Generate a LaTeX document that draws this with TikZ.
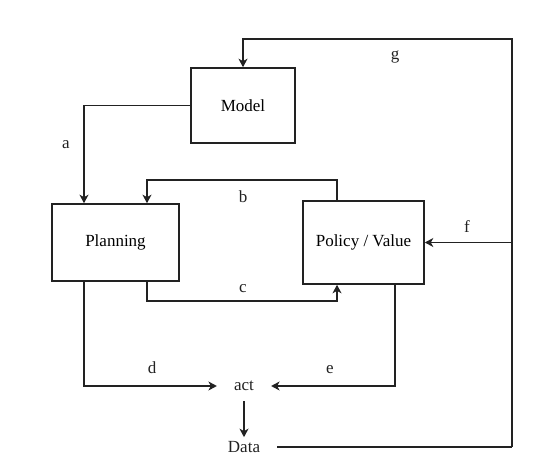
\documentclass[tikz,border=0pt]{standalone}
\usepackage{fontspec}
\setmainfont{Liberation Serif}
\usetikzlibrary{arrows.meta}
\definecolor{ink}{HTML}{222222}
\tikzset{
  box/.style={draw=ink, line width=1.6pt, rectangle, inner sep=0pt, font=\fontsize{17}{20}\selectfont},
  conn/.style={draw=ink, line width=1.4pt},
  heavy/.style={line width=2pt},
  arr/.style={conn, -{Stealth[length=8.5pt,width=9pt,inset=2.5pt]}},
  lbl/.style={anchor=base, inner sep=0pt, font=\fontsize{17}{20}\selectfont, text=ink},
  term/.style={inner xsep=17pt, font=\fontsize{17}{20}\selectfont, text=ink}
}
\begin{document}
\begin{tikzpicture}[x=1pt,y=-1pt]
\useasboundingbox (0,0) rectangle (559,464);
\fill[white] (0,0) rectangle (559,464);
% boxes
\node[box, minimum width=104pt, minimum height=75pt] (model) at (243,105.5) {Model};
\node[box, minimum width=127pt, minimum height=77pt] (planning) at (115.5,242.5) {Planning};
\node[box, minimum width=121pt, minimum height=83pt] (policy) at (363.5,242.5) {Policy / Value};
\node[term, inner ysep=10pt] (act) at (244,386) {act};
\node[term, inner ysep=4pt] (data) at (244,447) {Data};
\coordinate (corner) at (512,447);
% connectors
\draw[arr] (model.west) -| ([xshift=-31.5pt]planning.north);
\draw[arr, heavy] ([xshift=-26.5pt]policy.north) -- ++(0,-20) -| ([xshift=31.5pt]planning.north);
\draw[arr] ([xshift=31.5pt]planning.south) -- ++(0,19) -| ([xshift=-26.5pt]policy.south);
\draw[arr] ([xshift=-31.5pt]planning.south) |- (act.west);
\draw[arr] ([xshift=31.5pt]policy.south) |- (act.east);
\draw[arr] (act.south) -- (data.north);
\draw[conn, heavy] (data.east) -- (corner);
\draw[arr] (corner) |- (512,39) -| (model.north);
\draw[arr] (corner |- policy.east) -- (policy.east);
% labels
\node[lbl] (la) at (66,148.5) {a};
\node[lbl] (lb) at (243,202) {b};
\node[lbl] (lc) at (243,292.5) {c};
\node[lbl] (ld) at (152,373.5) {d};
\node[lbl] (le) at (330,373.5) {e};
\node[lbl] (lf) at (467,232) {f};
\node[lbl] (lg) at (395,59) {g};
\end{tikzpicture}
\end{document}
